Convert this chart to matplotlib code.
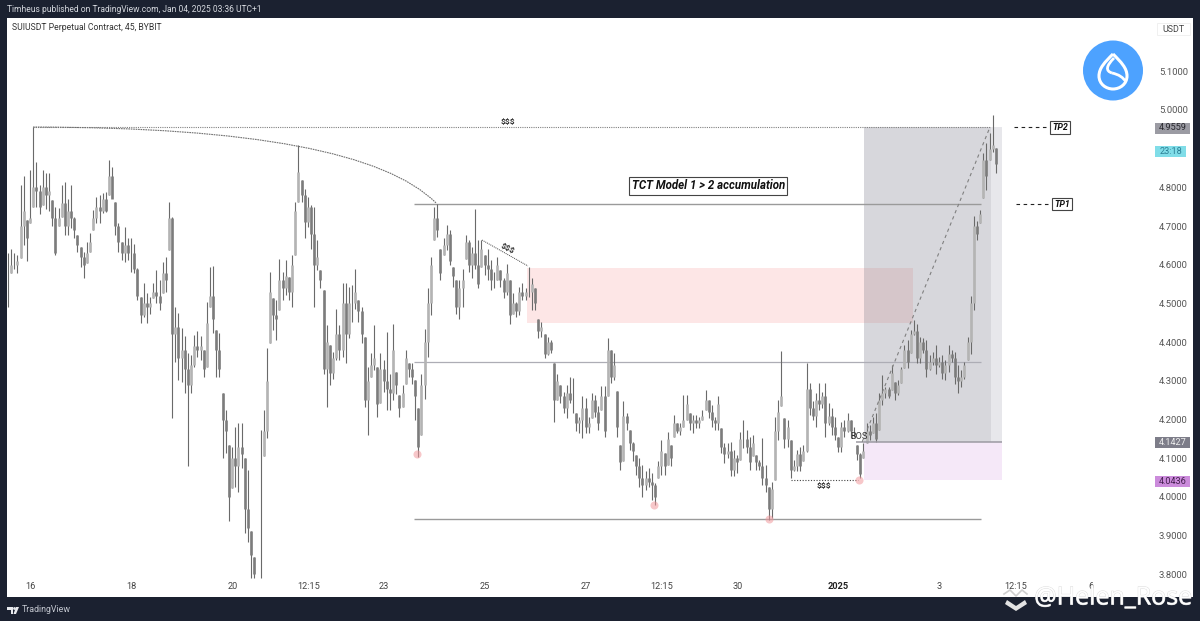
import numpy as np
import matplotlib
matplotlib.use("Agg")
from matplotlib import pyplot as plt
from matplotlib.path import Path
from matplotlib.patches import PathPatch, Rectangle, Circle, Polygon
import matplotlib.patheffects as pe

nan = float("nan")

# 90 minute candles, one row = one day
highs = [
    4.63, 4.64, 4.63, 4.625, 4.806, 4.83, 4.716, 4.845, 4.957, 4.866, 4.806, 4.845, 4.836, 4.836, 4.767, 4.75,
    4.746, 4.806, 4.815, 4.77, 4.806, 4.724, 4.677, 4.647, 4.634, 4.66, 4.681, 4.741, 4.776, 4.78, 4.785, 4.789,
    4.871, 4.853, 4.763, 4.707, 4.66, 4.698, 4.668, 4.668, 4.655, 4.591, 4.517, 4.552, 4.526, 4.517, 4.552, 4.586,
    4.56, 4.608, 4.621, 4.763, 4.724, 4.492, 4.475, 4.436, 4.415, 4.372, 4.367, 4.419, 4.428, 4.415, 4.38, 4.505,
    4.594, 4.597, 4.432, 4.423, 4.268, 4.225, 4.135, 4.13, 4.182, 4.191, 4.191, 4.10, 4.07, 3.911, 3.846, nan,
    4.174, 4.225, 4.385, 4.582, 4.513, 4.509, 4.616, 4.582, 4.612, 4.569, 4.625, 4.763, 4.909, 4.819, 4.797, 4.776,
    4.754, 4.75, 4.664, 4.586, 4.534, 4.444, 4.392, 4.375, 4.487, 4.444, 4.552, 4.552, 4.543, 4.547, 4.59, 4.509,
    4.491, 4.414, 4.336, 4.371, 4.444, 4.336, 4.371, 4.354, 4.427, 4.319, 4.448, 4.323, 4.263, 4.289, 4.379, 4.345,
    4.345, 4.302, 4.23, 4.319, 4.435, 4.539, 4.621, 4.75, 4.758, 4.642, 4.668, 4.702, 4.69, 4.595, 4.56, 4.56,
    4.59, 4.677, 4.664, 4.646, 4.745, 4.664, 4.664, 4.625, 4.642, 4.612, 4.582, 4.621, 4.586, 4.565, 4.603, 4.56,
    4.526, 4.504, 4.543, 4.552, 4.539, 4.595, 4.565, 4.539, 4.461, 4.453, 4.422, 4.414, 4.405, 4.345, 4.319, 4.289,
    4.272, 4.289, 4.31, 4.307, 4.217, 4.208, 4.26, 4.255, 4.208, 4.268, 4.264, 4.234, 4.286, 4.286, 4.41, 4.38,
    4.372, 4.273, 4.135, 4.247, 4.217, 4.174, 4.143, 4.109, 4.10, 4.083, 4.066, 4.075, 4.062, 4.036, 4.092, 4.148,
    4.113, 4.169, 4.135, 4.212, 4.191, 4.191, 4.264, 4.264, 4.217, 4.212, 4.212, 4.208, 4.225, 4.277, 4.251, 4.238,
    4.208, 4.26, 4.178, 4.139, 4.139, 4.143, 4.122, 4.109, 4.169, 4.199, 4.174, 4.156, 4.161, 4.109, 4.096, 4.152,
    4.083, 4.027, 4.04, 4.208, 4.251, 4.376, 4.204, 4.2, 4.148, 4.096, 4.122, 4.13, 4.135, 4.346, 4.294, 4.247,
    4.268, 4.294, 4.272, 4.294, 4.242, 4.229, 4.208, 4.156, 4.195, 4.2, 4.216, 4.2, 4.182, 4.135, 4.113, 4.139,
    4.191, 4.186, 4.208, 4.216, 4.268, 4.316, 4.285, 4.285, 4.341, 4.298, 4.303, 4.337, 4.393, 4.406, 4.431, 4.457,
    4.448, 4.414, 4.41, 4.405, 4.367, 4.375, 4.392, 4.362, 4.367, 4.354, 4.392, 4.379, 4.375, 4.341, 4.328, 4.349,
    4.414, 4.52, 4.725, 4.712, 4.742, 4.888, 4.914, 4.94, 4.987, 4.901,
]
lows = [
    4.49, 4.58, 4.59, 4.58, 4.617, 4.65, 4.61, 4.707, 4.75, 4.75, 4.73, 4.755, 4.745, 4.74, 4.70, 4.625,
    4.70, 4.724, 4.677, 4.677, 4.694, 4.668, 4.634, 4.595, 4.565, 4.604, 4.634, 4.69, 4.707, 4.707, 4.733, 4.737,
    4.78, 4.772, 4.677, 4.634, 4.612, 4.608, 4.612, 4.582, 4.578, 4.509, 4.449, 4.466, 4.449, 4.474, 4.513, 4.50,
    4.483, 4.526, 4.53, 4.638, 4.204, 4.35, 4.303, 4.298, 4.268, 4.079, 4.268, 4.337, 4.363, 4.354, 4.311, 4.337,
    4.492, 4.423, 4.311, 4.311, 4.10, 4.113, 3.937, 4.023, 4.027, 4.014, 4.075, 3.907, 3.885, 3.79, 3.79, nan,
    3.79, 4.105, 4.152, 4.397, 4.431, 4.405, 4.483, 4.509, 4.521, 4.509, 4.491, 4.625, 4.763, 4.763, 4.668, 4.698,
    4.642, 4.491, 4.586, 4.539, 4.319, 4.233, 4.289, 4.306, 4.354, 4.354, 4.362, 4.345, 4.41, 4.453, 4.487, 4.453,
    4.397, 4.233, 4.16, 4.31, 4.328, 4.207, 4.242, 4.272, 4.224, 4.224, 4.25, 4.267, 4.207, 4.233, 4.293, 4.31,
    4.293, 4.198, 4.104, 4.16, 4.254, 4.362, 4.47, 4.664, 4.672, 4.56, 4.625, 4.638, 4.599, 4.543, 4.474, 4.461,
    4.491, 4.616, 4.582, 4.565, 4.59, 4.539, 4.595, 4.573, 4.56, 4.534, 4.539, 4.56, 4.543, 4.513, 4.522, 4.448,
    4.474, 4.466, 4.47, 4.509, 4.509, 4.517, 4.483, 4.483, 4.41, 4.414, 4.358, 4.366, 4.371, 4.194, 4.25, 4.242,
    4.216, 4.203, 4.242, 4.217, 4.17, 4.165, 4.152, 4.165, 4.165, 4.204, 4.208, 4.174, 4.225, 4.156, 4.26, 4.294,
    4.303, 4.156, 4.07, 4.092, 4.174, 4.122, 4.092, 4.057, 4.027, 4.001, 4.019, 4.027, 3.993, 3.98, 4.049, 4.057,
    4.057, 4.083, 4.079, 4.156, 4.165, 4.161, 4.182, 4.199, 4.174, 4.165, 4.178, 4.178, 4.199, 4.225, 4.204, 4.182,
    4.174, 4.174, 4.113, 4.087, 4.10, 4.053, 4.053, 4.062, 4.096, 4.126, 4.113, 4.07, 4.105, 4.07, 4.07, 4.031,
    4.014, 3.941, 3.946, 4.044, 4.148, 4.234, 4.126, 4.13, 4.049, 4.066, 4.066, 4.066, 4.092, 4.117, 4.212, 4.199,
    4.182, 4.225, 4.229, 4.156, 4.186, 4.16, 4.148, 4.117, 4.117, 4.156, 4.169, 4.152, 4.156, 4.096, 4.049, 4.1,
    4.139, 4.148, 4.165, 4.143, 4.173, 4.238, 4.255, 4.255, 4.277, 4.251, 4.264, 4.294, 4.333, 4.333, 4.371, 4.418,
    4.345, 4.345, 4.371, 4.31, 4.328, 4.341, 4.319, 4.336, 4.306, 4.302, 4.323, 4.349, 4.293, 4.268, 4.285, 4.306,
    4.354, 4.37, 4.483, 4.664, 4.707, 4.772, 4.793, 4.871, 4.892, 4.836,
]
closes = [
    4.58, 4.60, 4.60, 4.61, 4.70, 4.74, 4.67, 4.72, 4.80, 4.79, 4.75, 4.80, 4.78, 4.79, 4.72, 4.63,
    4.72, 4.76, 4.70, 4.74, 4.72, 4.69, 4.65, 4.62, 4.60, 4.63, 4.66, 4.72, 4.75, 4.74, 4.77, 4.74,
    4.83, 4.77, 4.70, 4.66, 4.63, 4.65, 4.63, 4.63, 4.59, 4.52, 4.47, 4.50, 4.49, 4.50, 4.53, 4.52,
    4.50, 4.58, 4.56, 4.72, 4.42, 4.44, 4.36, 4.38, 4.33, 4.29, 4.34, 4.39, 4.38, 4.39, 4.33, 4.45,
    4.52, 4.46, 4.38, 4.33, 4.20, 4.17, 4.00, 4.10, 4.08, 4.13, 4.11, 3.97, 3.92, 3.85, 3.80, nan,
    3.92, 4.17, 4.30, 4.53, 4.47, 4.46, 4.56, 4.54, 4.57, 4.53, 4.60, 4.74, 4.84, 4.78, 4.71, 4.75,
    4.68, 4.60, 4.62, 4.56, 4.33, 4.40, 4.32, 4.36, 4.42, 4.38, 4.50, 4.42, 4.50, 4.50, 4.53, 4.48,
    4.42, 4.25, 4.30, 4.34, 4.36, 4.24, 4.33, 4.30, 4.28, 4.27, 4.38, 4.29, 4.23, 4.27, 4.36, 4.33,
    4.31, 4.26, 4.13, 4.29, 4.40, 4.50, 4.60, 4.72, 4.69, 4.58, 4.65, 4.68, 4.61, 4.57, 4.49, 4.54,
    4.56, 4.66, 4.60, 4.63, 4.60, 4.55, 4.64, 4.60, 4.59, 4.56, 4.56, 4.60, 4.56, 4.53, 4.58, 4.47,
    4.50, 4.48, 4.53, 4.52, 4.53, 4.53, 4.55, 4.50, 4.43, 4.44, 4.37, 4.40, 4.38, 4.25, 4.30, 4.26,
    4.23, 4.27, 4.25, 4.25, 4.19, 4.20, 4.23, 4.18, 4.19, 4.25, 4.22, 4.19, 4.26, 4.17, 4.38, 4.31,
    4.34, 4.18, 4.09, 4.21, 4.19, 4.14, 4.12, 4.08, 4.05, 4.03, 4.05, 4.04, 4.03, 4.00, 4.08, 4.12,
    4.08, 4.15, 4.10, 4.19, 4.17, 4.18, 4.20, 4.24, 4.19, 4.20, 4.19, 4.20, 4.21, 4.25, 4.22, 4.20,
    4.19, 4.24, 4.13, 4.11, 4.12, 4.07, 4.10, 4.09, 4.15, 4.15, 4.13, 4.09, 4.14, 4.09, 4.08, 4.05,
    4.03, 3.97, 4.02, 4.17, 4.22, 4.26, 4.15, 4.18, 4.07, 4.08, 4.11, 4.08, 4.12, 4.28, 4.23, 4.21,
    4.25, 4.24, 4.26, 4.19, 4.21, 4.18, 4.16, 4.13, 4.18, 4.17, 4.20, 4.17, 4.17, 4.11, 4.06, 4.12,
    4.17, 4.16, 4.19, 4.15, 4.25, 4.27, 4.28, 4.26, 4.32, 4.27, 4.29, 4.33, 4.38, 4.35, 4.42, 4.43,
    4.36, 4.40, 4.38, 4.33, 4.35, 4.36, 4.34, 4.35, 4.32, 4.34, 4.37, 4.36, 4.31, 4.30, 4.31, 4.34,
    4.40, 4.50, 4.70, 4.68, 4.73, 4.87, 4.83, 4.90, 4.91, 4.86,
]

# x axis is days since Dec 16
tick_days = [0, 2, 4, 5.5, 7, 9, 11, 12.5, 14, 16, 18, 19.5, 21]
tick_names = ["16", "18", "20", "12:15", "23", "25", "27", "12:15", "30", "2025", "3", "12:15", "6"]
# 4.9000 sits under the countdown badge in the reference
price_ticks = [3.8, 3.9, 4.0, 4.1, 4.2, 4.3, 4.4, 4.5, 4.6, 4.7, 4.8, 5.0, 5.1]

first_bar = -0.445
bar_days = 1 / 16

level_tp2 = 4.9559
level_tp1 = 4.757
level_mid = 4.35
level_low = 3.943
level_entry = 4.1427
level_stop = 4.0436
swept_days = [7.65, 12.35, 14.62, 16.41]
swept_prices = [4.11, 3.98, 3.943, 4.045]

plt.rcParams["font.family"] = ["Roboto", "DejaVu Sans"]
DARK = "#1b2130"

fig = plt.figure(figsize=(12, 6.21), dpi=100, facecolor=DARK)
ax = fig.add_axes([7 / 1200, 24 / 621, 1186 / 1200, 579 / 621], facecolor="white")
ax.set_xlim(-0.465, 23.02)
ax.set_ylim(3.7416, 5.2377)
for s in ax.spines.values():
    s.set_visible(False)

highs = np.array(highs)
lows = np.array(lows)
closes = np.array(closes)
bar_x = first_bar + np.arange(len(highs)) * bar_days
opens = np.clip(np.r_[closes[0], closes[:-1]], lows, highs)
opens = np.where(np.isnan(opens), closes, opens)
up = closes >= opens

# zones
ax.add_patch(Rectangle((9.83, 4.45), 7.65, 0.143, fc="#fde6e6", ec="none", zorder=1))
ax.add_patch(Rectangle((16.5, level_entry), 2.52, level_tp2 - level_entry, fc="#7c7c8c", alpha=0.3, ec="none", zorder=1.2))
ax.add_patch(Rectangle((19.02, level_entry), 0.22, level_tp2 - level_entry, fc="#e7e7eb", ec="none", zorder=1.2))
ax.add_patch(Rectangle((16.5, level_stop), 2.74, level_entry - level_stop, fc="#f5e8f8", ec="none", zorder=1.2))

# candles
ax.vlines(bar_x, lows, highs, color="#6a6a6a", lw=0.8, zorder=3)
ax.vlines(bar_x[up], opens[up], closes[up], color="#b4b4b4", lw=1.9, zorder=4)
ax.vlines(bar_x[~up], closes[~up], opens[~up], color="#7c7c7c", lw=1.9, zorder=4)

# levels
ax.hlines(level_tp2, 0.05, 19.0, color="#808080", lw=0.8, ls=(0, (1, 1)), zorder=5)
ax.hlines(level_tp1, 7.59, 18.82, color="#9a9a9a", lw=1.0, zorder=2)
ax.hlines(level_mid, 7.59, 18.82, color="#adadb5", lw=0.9, zorder=2)
ax.hlines(level_low, 7.59, 18.82, color="#9a9a9a", lw=1.0, zorder=2)
ax.hlines(level_entry, 16.35, 19.24, color="#9c9aa2", lw=1.1, zorder=5)
ax.hlines(level_stop, 15.06, 16.39, color="#444444", lw=0.8, ls=(0, (1, 1.5)), zorder=5)
ax.plot([16.47, 19.0], [level_entry, level_tp2], color="#808080", lw=0.8, ls=(0, (3, 3)), zorder=5)
ax.plot([8.94, 9.85], [4.664, 4.597], color="#444444", lw=0.7, ls=(0, (1, 1)), zorder=5)

# sweep curve from the top wick down to the range high
curve = Path([(0.05, level_tp2), (6.52, level_tp2), (8.03, 4.76)], [Path.MOVETO, Path.CURVE3, Path.CURVE3])
ax.add_patch(PathPatch(curve, fc="none", ec="#707070", lw=0.8, ls=(0, (1.5, 0.7)), zorder=5))

ax.scatter(swept_days, swept_prices, s=34, color="#f29a9e", alpha=0.55, linewidths=0, zorder=6)

# texts on the chart
ax.text(9.46, 4.97, "$$$", fontsize=6, color="#333333", ha="center", va="center", fontweight="bold", zorder=7)
ax.text(9.46, 4.643, "$$$", fontsize=6, color="#333333", ha="center", va="center", fontweight="bold", rotation=-27, zorder=7)
ax.text(15.71, 4.03, "$$$", fontsize=6, color="#333333", ha="center", va="center", fontweight="bold", zorder=7)
ax.text(16.41, 4.157, "BOS", fontsize=6.6, color="#333333", ha="center", va="center", zorder=7)
ax.text(13.42, 4.804, "TCT Model 1 > 2 accumulation", fontsize=8.3, ha="center", va="center", color="#111111",
        fontweight="bold", fontstyle="italic", zorder=8,
        bbox=dict(boxstyle="square,pad=0.22", fc="white", ec="#444444", lw=0.8))
for start, end, centre, price, name in [(19.47, 20.11, 20.39, level_tp2, "TP2"), (19.51, 20.15, 20.43, level_tp1, "TP1")]:
    ax.plot([start, end], [price, price], color="#222222", lw=0.8, ls=(0, (3.2, 3.2)))
    ax.text(centre, price, name, fontsize=6.4, ha="center", va="center", color="#111111", fontweight="bold",
            fontstyle="italic", bbox=dict(boxstyle="square,pad=0.22", fc="white", ec="#444444", lw=0.8))

# axis labels sit inside the plot, like the TradingView scales
ax.yaxis.tick_right()
ax.set_yticks(price_ticks, [f"{p:.4f}" for p in price_ticks])
ax.set_xticks(tick_days, tick_names)
ax.tick_params(axis="y", length=0, pad=-24.5, labelsize=6.8, labelcolor="#555555")
ax.tick_params(axis="x", length=0, pad=-10.5, labelsize=6.6, labelcolor="#444444")
for lab in ax.get_xticklabels():
    if lab.get_text() == "2025":
        lab.set_fontweight("bold")
        lab.set_color("#222222")

# overlay in picture pixels for the chrome around the chart
ov = fig.add_axes([0, 0, 1, 1], facecolor="none")
ov.set_xlim(0, 1200)
ov.set_ylim(621, 0)
ov.axis("off")

ov.text(7, 9.5, "Timheus published on TradingView.com, Jan 04, 2025 03:36 UTC+1", fontsize=6.15, color="#d5d8de", va="center")
ov.text(12, 28, "SUIUSDT Perpetual Contract, 45, BYBIT", fontsize=6.2, color="#333333", va="center")
ov.text(22, 610, "TradingView", fontsize=6.4, color="#c4c8d0", va="center")
ov.add_patch(Polygon([(7, 607), (13, 607), (13, 614), (10.5, 614), (10.5, 610), (7, 610)], fc="#e8eaee", ec="none"))
ov.add_patch(Polygon([(16, 607), (19, 607), (16, 614), (13.5, 614)], fc="#e8eaee", ec="none"))
ov.add_patch(Circle((14.5, 608.5), 1.4, fc="#e8eaee", ec="none"))

# scale badges
ov.add_patch(Rectangle((1157, 23), 33, 12, fc="white", ec="#eeeeee", lw=0.6))
ov.text(1173.5, 29, "USDT", fontsize=6.4, color="#444444", ha="center", va="center")
for y0, h, x1, fc, tc, txt in [
    (122.5, 11, 1190, "#9b9ba3", "#2a2a30", "4.9559"),
    (145.5, 11, 1186, "#80dde8", "#2b7f95", "23:18"),
    (437, 10.5, 1190, "#7d7d89", "#eeeeee", "4.1427"),
    (475.5, 11, 1190, "#cb8bdb", "#45204f", "4.0436"),
]:
    ov.add_patch(Rectangle((1155, y0), x1 - 1155, h, fc=fc, ec="none"))
    ov.text((1155 + x1) / 2, y0 + h / 2, txt, fontsize=6.6, color=tc, ha="center", va="center")

# Sui logo
ov.add_patch(Circle((1113, 70.5), 30, fc="#4da2ff", ec="none"))
drop = Path(
    [(1113, 54), (1121, 62), (1127, 68), (1127, 76), (1127, 84), (1120, 89), (1113, 89),
     (1106, 89), (1099, 84), (1099, 76), (1099, 68), (1105, 62), (1113, 54)],
    [Path.MOVETO] + [Path.CURVE4] * 12,
)
ov.add_patch(PathPatch(drop, fc="none", ec="white", lw=2.2))
ov.add_patch(PathPatch(Path([(1114, 58), (1102, 70), (1112, 73)], [Path.MOVETO, Path.CURVE3, Path.CURVE3]), fc="none", ec="white", lw=2))
ov.add_patch(PathPatch(Path([(1112, 73), (1122, 75), (1126, 82)], [Path.MOVETO, Path.CURVE3, Path.CURVE3]), fc="none", ec="white", lw=2))

# watermark
ov.text(1192, 598, "@Helen_Rose", fontsize=18, color="white", ha="right", va="center", alpha=0.95,
        family=["Open Sans", "DejaVu Sans"],
        path_effects=[pe.withStroke(linewidth=0.6, foreground="#d8d8d8")])
ov.plot([1004, 1010, 1016, 1022, 1027], [594, 590, 596, 590, 594], color="#cfcfcf", lw=1.2)
ov.add_patch(Polygon([(1007, 600), (1016, 606), (1025, 600), (1027, 604), (1016, 611), (1005, 604)], fc="#e3e3e3", ec="none"))

fig.savefig("out.png", dpi=100, facecolor=DARK)
